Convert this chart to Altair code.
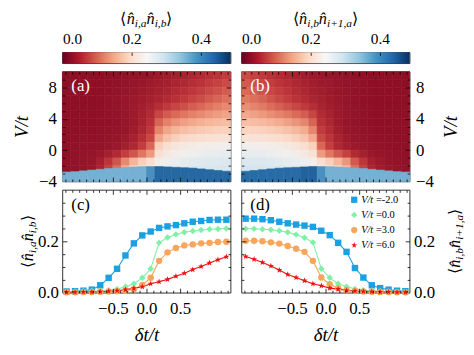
import altair as alt
import pandas as pd

SERIF = "Liberation Serif"

# ---------------- data ----------------
DT = [-1.1875, -1.0625, -0.9375, -0.8125, -0.6875, -0.5625, -0.4375, -0.3125, -0.1875, -0.0625,
      0.0625, 0.1875, 0.3125, 0.4375, 0.5625, 0.6875, 0.8125, 0.9375, 1.0625, 1.1875]
DT_HALF = 0.0625

# lower edge of each heat-map row (V/t), top row first
V_ROW_LO = [9, 8, 7, 6, 5, 4, 3, 2, 1, 0, -1, -2, -3]

HEAT_A = [
    [.001, .001, .002, .002, .002, .003, .004, .006, .008, .010, .012, .015, .018, .022, .026, .031, .036, .041, .046, .052],
    [.001, .001, .002, .002, .003, .004, .005, .007, .010, .012, .015, .019, .023, .028, .033, .039, .045, .052, .058, .065],
    [.002, .002, .003, .003, .003, .005, .007, .009, .012, .015, .019, .024, .029, .035, .041, .048, .055, .063, .070, .078],
    [.002, .002, .003, .003, .004, .006, .008, .011, .014, .018, .023, .029, .035, .043, .050, .059, .067, .076, .085, .094],
    [.002, .002, .003, .003, .004, .006, .008, .011, .016, .021, .028, .040, .050, .060, .069, .079, .088, .097, .106, .115],
    [.002, .002, .003, .003, .004, .006, .007, .010, .016, .024, .034, .060, .077, .089, .099, .108, .116, .124, .131, .137],
    [.002, .002, .003, .003, .004, .005, .006, .009, .015, .026, .041, .085, .108, .123, .133, .141, .148, .154, .159, .163],
    [.002, .003, .004, .004, .005, .006, .007, .010, .018, .031, .050, .110, .138, .153, .163, .170, .176, .180, .184, .186],
    [.003, .004, .005, .005, .006, .008, .010, .016, .025, .040, .062, .140, .167, .183, .192, .198, .203, .207, .210, .212],
    [.004, .005, .006, .006, .007, .009, .013, .021, .032, .053, .087, .182, .205, .218, .227, .231, .235, .238, .239, .241],
    [.004, .005, .007, .008, .013, .022, .034, .054, .074, .099, .129, .209, .226, .236, .244, .249, .253, .256, .257, .259],
    [.005, .006, .008, .011, .024, .046, .073, .115, .153, .182, .202, .238, .247, .254, .261, .267, .270, .274, .275, .276],
    [.005, .006, .008, .012, .029, .058, .093, .145, .192, .223, .238, .252, .258, .263, .270, .276, .279, .283, .284, .284],
]

HEAT_B = [
    [.066, .058, .050, .043, .037, .031, .025, .020, .016, .013, .012, .009, .006, .005, .004, .003, .002, .002, .002, .001],
    [.076, .068, .061, .053, .046, .039, .032, .026, .020, .016, .014, .010, .007, .006, .004, .003, .002, .002, .002, .001],
    [.088, .080, .071, .062, .054, .046, .038, .031, .024, .019, .015, .012, .008, .006, .005, .004, .003, .003, .002, .002],
    [.102, .093, .083, .073, .063, .054, .045, .036, .028, .022, .017, .013, .009, .007, .005, .004, .003, .003, .002, .002],
    [.120, .111, .102, .092, .082, .072, .062, .051, .040, .027, .020, .015, .009, .007, .005, .004, .003, .003, .002, .002],
    [.141, .135, .128, .120, .111, .101, .090, .079, .060, .035, .026, .016, .010, .007, .005, .004, .003, .003, .002, .002],
    [.165, .162, .157, .151, .144, .135, .125, .112, .085, .043, .031, .017, .010, .007, .005, .004, .003, .003, .002, .002],
    [.188, .187, .184, .180, .174, .166, .156, .144, .112, .052, .037, .021, .012, .008, .006, .005, .004, .003, .002, .002],
    [.213, .212, .209, .205, .199, .192, .182, .170, .142, .064, .046, .027, .017, .011, .008, .006, .005, .004, .003, .002],
    [.241, .241, .239, .237, .233, .226, .217, .205, .184, .087, .054, .032, .021, .014, .009, .007, .006, .005, .004, .003],
    [.259, .259, .257, .254, .250, .244, .236, .226, .211, .130, .100, .075, .057, .035, .022, .013, .009, .007, .005, .004],
    [.278, .278, .276, .273, .267, .261, .255, .249, .241, .204, .183, .154, .125, .076, .047, .024, .015, .010, .007, .005],
    [.288, .288, .286, .282, .276, .270, .265, .261, .256, .241, .224, .194, .159, .096, .059, .029, .018, .012, .008, .006],
]

# phase-boundary (top of the blue region) and value inside it
BOUND_A = [-2.8, -2.75, -2.65, -2.55, -2.45, -2.35, -2.3, -2.2, -2.15, -2.1,
           -2.1, -2.1, -2.15, -2.2, -2.25, -2.3, -2.4, -2.5, -2.6, -2.7]
BLUE_A = [.37, .37, .37, .37, .37, .37, .37, .37, .37, .37,
          .41, .455, .455, .455, .455, .455, .455, .455, .455, .455]
BOUND_B = [-2.7, -2.6, -2.5, -2.4, -2.3, -2.25, -2.2, -2.15, -2.1, -2.1,
           -2.1, -2.15, -2.2, -2.3, -2.35, -2.45, -2.55, -2.65, -2.75, -2.8]
BLUE_B = [.45, .45, .45, .45, .45, .45, .45, .46, .46, .41,
          .37, .37, .37, .37, .37, .37, .37, .37, .37, .37]
V_BOTTOM = -4

SERIES = ["V/t =-2.0", "V/t =0.0", "V/t =3.0", "V/t =6.0"]
LEG_VT = "V/t"
LEG_REST = ["=-2.0", "=0.0", "=3.0", "=6.0"]
COLORS = ["#1ba1e2", "#7ff0a8", "#f9a65a", "#ee1111"]
STAR = ("M0,-1L0.235,-0.324L0.951,-0.309L0.38,0.124L0.588,0.809L0,0.4"
        "L-0.588,0.809L-0.38,0.124L-0.951,-0.309L-0.235,-0.324Z")
SHAPES = ["square", "diamond", "circle", STAR]

C_M2 = [.005, .006, .008, .012, .029, .058, .093, .145, .192, .223, .238, .252, .258, .263, .270, .276, .279, .283, .284, .284]
C_0 = [.004, .005, .006, .007, .008, .010, .014, .023, .035, .058, .093, .194, .215, .227, .235, .240, .244, .247, .248, .250]
C_3 = [.002, .002, .003, .003, .004, .005, .006, .008, .014, .030, .058, .124, .157, .174, .184, .188, .192, .194, .197, .198]
C_6 = [.002, .002, .003, .003, .004, .006, .008, .012, .017, .023, .035, .043, .052, .064, .076, .090, .102, .116, .128, .140]

D_M2 = [.288, .288, .286, .282, .276, .270, .265, .261, .256, .241, .224, .194, .159, .096, .059, .029, .018, .012, .008, .006]
D_0 = [.249, .249, .247, .245, .241, .235, .226, .214, .196, .093, .058, .035, .023, .015, .010, .008, .006, .005, .004, .003]
D_3 = [.202, .202, .200, .196, .191, .182, .171, .159, .124, .059, .033, .018, .010, .007, .005, .004, .003, .003, .002, .002]
D_6 = [.141, .130, .118, .104, .088, .071, .059, .047, .035, .027, .018, .014, .009, .007, .005, .004, .003, .003, .002, .002]

X_DOMAIN = [-1.25, 1.25]
X_MAJOR = [-0.5, 0.0, 0.5]
X_ALL = [-1.2, -1.1, -1.0, -0.9, -0.8, -0.7, -0.6, -0.5, -0.4, -0.3, -0.2, -0.1, 0.0,
         0.1, 0.2, 0.3, 0.4, 0.5, 0.6, 0.7, 0.8, 0.9, 1.0, 1.1, 1.2]
HY_MAJOR = [-4, 0, 4, 8]
HY_ALL = [-3, -2, -1, 0, 1, 2, 3, 4, 5, 6, 7, 8, 9]
LY_MAJOR = [0.0, 0.2]
LY_ALL = [0.05, 0.1, 0.15, 0.2, 0.25, 0.3, 0.35]
CB_TICKS = [0.0, 0.2, 0.4]
CB_RANGE = [0.0, 0.486]
REDBLUE = ["#67001f", "#b2182b", "#d6604d", "#f4a582", "#fddbc7", "#f7f7f7",
           "#d1e5f0", "#92c5de", "#4393c3", "#2166ac", "#053061"]

# ---------------- layout constants ----------------
W = 170
H_CB = 11
H_HEAT = 111
H_LINE = 104
FS_TICK = 17
FS_CBTICK = 15.5
FS_TITLE = 19
FS_MATH = 16.5
FS_SUB = 11.5
FS_LEG = 10.5

ONE = pd.DataFrame({"o": [0]})

XS = alt.Scale(domain=X_DOMAIN, nice=False, zero=False)
HYS = alt.Scale(domain=[-4, 10], nice=False, zero=False)
LYS = alt.Scale(domain=[0, 0.4], nice=False, zero=False)
CS = alt.Scale(scheme="redblue", domain=CB_RANGE)
CBS = alt.Scale(domain=CB_RANGE, nice=False, zero=False)
CBY = alt.Scale(domain=[0, 1], nice=False, zero=False)

TEST_X = "abs(datum.value) < 0.6 && abs(datum.value*2 - round(datum.value*2)) < 0.001"
TEST_HY = "abs(datum.value/4 - round(datum.value/4)) < 0.001"
TEST_LY = "abs(datum.value*5 - round(datum.value*5)) < 0.001"


def tick_axis(orient, offset, values, test, major=4.5, minor=2.5):
    return alt.Axis(orient=orient, offset=offset, values=values, labels=False,
                    domain=False, grid=False, title=None, ticks=True,
                    tickColor="black", tickWidth=0.8, zindex=2,
                    tickSize={"condition": {"test": test, "value": major}, "value": minor})


def tick_layers(xs, ys, xvals, yvals, xtest, ytest, w, h, major=4.5, minor=2.5):
    df = pd.DataFrame({"tx": [xs.domain[0]], "ty": [ys.domain[0]]})
    l1 = alt.Chart(df).mark_point(opacity=0).encode(
        x=alt.X("tx:Q", scale=xs, axis=tick_axis("top", -h, xvals, xtest, major, minor)),
        y=alt.Y("ty:Q", scale=ys, axis=tick_axis("right", -w, yvals, ytest, major, minor)))
    l2 = alt.Chart(df).mark_point(opacity=0).encode(
        x=alt.X("tx:Q", scale=xs, axis=tick_axis("bottom", -h, xvals, xtest, major, minor)),
        y=alt.Y("ty:Q", scale=ys, axis=tick_axis("left", -w, yvals, ytest, major, minor)))
    return [l1, l2]


CHW = {"⟨": 0.39, "⟩": 0.39, "n": 0.5, "i": 0.278, ",": 0.25, "a": 0.5,
       "b": 0.5, "+": 0.675, "1": 0.5}


def twidth(s, size):
    return sum(CHW.get(c, 0.0 if c == "\u0302" else 0.5) for c in s) * size


def math_text(pieces, x, y, angle):
    total = sum(twidth(t, s) for t, s, _ in pieces)
    cur = -total / 2
    out = []
    for t, s, dy in pieces:
        style = "normal" if t in ("⟨", "⟩") else "italic"
        out.append(alt.Chart(ONE).mark_text(
            text=t, font=SERIF, fontSize=s, fontStyle=style, align="left",
            baseline="alphabetic", dx=cur, dy=dy, angle=angle, color="black"
        ).encode(x=alt.value(x), y=alt.value(y)))
        cur += twidth(t, s)
    return out


NHAT = "n\u0302"
SUB_DY = 3
TITLE_A = [("⟨", FS_MATH, 0), (NHAT, FS_MATH, 0), ("i,a", FS_SUB, SUB_DY),
           (NHAT, FS_MATH, 0), ("i,b", FS_SUB, SUB_DY), ("⟩", FS_MATH, 0)]
TITLE_B = [("⟨", FS_MATH, 0), (NHAT, FS_MATH, 0), ("i,b", FS_SUB, SUB_DY),
           (NHAT, FS_MATH, 0), ("i+1,a", FS_SUB, SUB_DY), ("⟩", FS_MATH, 0)]


def panel_label(txt, color):
    return alt.Chart(ONE).mark_text(text=txt, font=SERIF, fontSize=17, color=color,
                                    align="left", baseline="alphabetic").encode(
        x=alt.value(9), y=alt.value(20))


# ---------------- colorbars ----------------
def colorbar(title):
    df = pd.DataFrame({"lo": [CB_RANGE[0]], "hi": [CB_RANGE[1]], "b0": [0.0], "b1": [1.0]})
    grad = alt.Gradient(gradient="linear", x1=0, x2=1, y1=0, y2=0,
                        stops=[alt.GradientStop(color=c, offset=i / 10) for i, c in enumerate(REDBLUE)])
    bar = alt.Chart(df).mark_rect(fill=grad).encode(
        x=alt.X("lo:Q", scale=CBS, axis=alt.Axis(
            orient="top", values=CB_TICKS, format=".1f", ticks=False, tickSize=0,
            domain=False, grid=False, title=None, labelFont=SERIF,
            labelFontSize=FS_CBTICK, labelPadding=6, labelColor="black")),
        x2="hi:Q",
        y=alt.Y("b0:Q", scale=CBY, axis=None), y2="b1:Q")
    tdf = pd.DataFrame({"tx": [0.0], "ty": [0.0]})
    ticks = alt.Chart(tdf).mark_point(opacity=0).encode(
        x=alt.X("tx:Q", scale=CBS, axis=alt.Axis(
            orient="bottom", offset=-H_CB, values=[0.2, 0.4], labels=False, domain=False,
            grid=False, title=None, tickSize=3, tickColor="black", tickWidth=0.8, zindex=2)),
        y=alt.Y("ty:Q", scale=CBY, axis=None))
    return alt.layer(bar, ticks, *math_text(title, W / 2, -29, 0)).resolve_axis(
        x="independent", y="independent").properties(width=W, height=H_CB)


# ---------------- heat maps ----------------
def heat(grid, bound, blue, right, label):
    rows = []
    for i, vlo in enumerate(V_ROW_LO):
        for k, dt in enumerate(DT):
            rows.append({"dt": dt, "v": vlo, "val": grid[i][k]})
    hdf = pd.DataFrame(rows)
    bdf = pd.DataFrame({"dt": DT, "v": [V_BOTTOM] * len(DT), "vtop": bound, "val": blue})
    yaxis = alt.Axis(orient="right" if right else "left", values=HY_MAJOR, format="d",
                     ticks=False, tickSize=0, domain=False, grid=False,
                     labelFont=SERIF, labelFontSize=FS_TICK, labelPadding=6, labelColor="black",
                     title="V/t", titleFont=SERIF, titleFontSize=FS_TITLE, titleFontStyle="italic",
                     titleFontWeight="normal", titleAngle=270, titleAlign="center",
                     titleBaseline="middle", titleX=41 if right else -41, titleY=H_HEAT / 2)
    half = f"{DT_HALF}"
    cells = alt.Chart(hdf).transform_calculate(
        x0="datum.dt - " + half, x1="datum.dt + " + half, v1="datum.v + 1"
    ).mark_rect(strokeWidth=0.6).encode(
        x=alt.X("x0:Q", scale=XS, axis=None), x2="x1:Q",
        y=alt.Y("v:Q", scale=HYS, axis=yaxis), y2="v1:Q",
        color=alt.Color("val:Q", scale=CS, legend=None),
        stroke=alt.Stroke("val:Q", scale=CS, legend=None))
    blue_rects = alt.Chart(bdf).transform_calculate(
        x0="datum.dt - " + half, x1="datum.dt + " + half
    ).mark_rect(strokeWidth=0.6).encode(
        x=alt.X("x0:Q", scale=XS, axis=None), x2="x1:Q",
        y=alt.Y("v:Q", scale=HYS, axis=None), y2="vtop:Q",
        color=alt.Color("val:Q", scale=CS, legend=None),
        stroke=alt.Stroke("val:Q", scale=CS, legend=None))
    layers = [cells, blue_rects] + tick_layers(XS, HYS, X_ALL, HY_ALL, TEST_X, TEST_HY, W, H_HEAT)
    layers.append(panel_label(label, "white"))
    return alt.layer(*layers).resolve_axis(x="independent", y="independent").properties(
        width=W, height=H_HEAT)


# ---------------- legend drawn inside panel (d) ----------------
def legend_layers():
    out = []
    for i in range(len(SERIES)):
        py = 10 + i * 15.3
        out.append(alt.Chart(ONE).mark_point(
            filled=True, size=40, opacity=1, color=COLORS[i], shape=SHAPES[i]
        ).encode(x=alt.value(114), y=alt.value(py)))
        out.append(alt.Chart(ONE).mark_text(
            text=LEG_VT, font=SERIF, fontSize=FS_LEG, fontStyle="italic", align="left",
            baseline="middle", color="black").encode(x=alt.value(121), y=alt.value(py)))
        out.append(alt.Chart(ONE).mark_text(
            text=LEG_REST[i], font=SERIF, fontSize=FS_LEG, align="left",
            baseline="middle", color="black").encode(x=alt.value(136), y=alt.value(py)))
    return out


# ---------------- line panels ----------------
def lines(vals, right, label, title, legend):
    recs = []
    for s, name in enumerate(SERIES):
        for k, dt in enumerate(DT):
            recs.append({"dt": dt, "val": vals[s][k], "series": name})
    df = pd.DataFrame(recs)
    cscale = alt.Scale(domain=SERIES, range=COLORS)
    sscale = alt.Scale(domain=SERIES, range=SHAPES)
    xaxis = alt.Axis(orient="bottom", values=X_MAJOR, format=".1f", ticks=False, tickSize=0,
                     domain=False, grid=False, labelFont=SERIF, labelFontSize=FS_TICK,
                     labelPadding=8, labelColor="black",
                     title="δt/t", titleFont=SERIF, titleFontSize=FS_TITLE, titleFontStyle="italic",
                     titleFontWeight="normal", titleX=W / 2, titleY=42, titleBaseline="middle")
    yaxis = alt.Axis(orient="right" if right else "left", values=LY_MAJOR, format=".1f",
                     ticks=False, tickSize=0, domain=False, grid=False, labelFont=SERIF,
                     labelFontSize=FS_TICK, labelPadding=4, labelColor="black", title=None)
    ln = alt.Chart(df).mark_line(strokeWidth=1.1).encode(
        x=alt.X("dt:Q", scale=XS, axis=xaxis),
        y=alt.Y("val:Q", scale=LYS, axis=yaxis),
        stroke=alt.Stroke("series:N", scale=cscale, legend=None),
        detail="series:N")
    pts = alt.Chart(df).mark_point(filled=True, size=42, opacity=1).encode(
        x=alt.X("dt:Q", scale=XS, axis=None),
        y=alt.Y("val:Q", scale=LYS, axis=None),
        color=alt.Color("series:N", scale=cscale, legend=None),
        shape=alt.Shape("series:N", scale=sscale, legend=None))
    layers = [ln, pts] + tick_layers(XS, LYS, X_ALL, LY_ALL, TEST_X, TEST_LY, W, H_LINE)
    layers.append(panel_label(label, "black"))
    if legend:
        layers += legend_layers()
    tx = W + 51 if right else -30
    layers += math_text(title, tx, H_LINE / 2, 270)
    return alt.layer(*layers).resolve_axis(x="independent", y="independent").properties(
        width=W, height=H_LINE)


cbA = colorbar(TITLE_A)
cbB = colorbar(TITLE_B)
heatA = heat(HEAT_A, BOUND_A, BLUE_A, False, "(a)")
heatB = heat(HEAT_B, BOUND_B, BLUE_B, True, "(b)")
lineC = lines([C_M2, C_0, C_3, C_6], False, "(c)", TITLE_A, False)
lineD = lines([D_M2, D_0, D_3, D_6], True, "(d)", TITLE_B, True)

chart = alt.concat(
    cbA, cbB, heatA, heatB, lineC, lineD, columns=2,
    spacing={"row": 8.5, "column": 11}, bounds="flush"
).resolve_scale(
    color="independent", shape="independent", stroke="independent"
).properties(
    padding={"left": 4, "top": 0, "right": 0, "bottom": 0}
).configure(font=SERIF).configure_view(stroke="black", strokeWidth=0.8)

chart.save("out.html", embed_options={"renderer": "svg", "actions": False})
